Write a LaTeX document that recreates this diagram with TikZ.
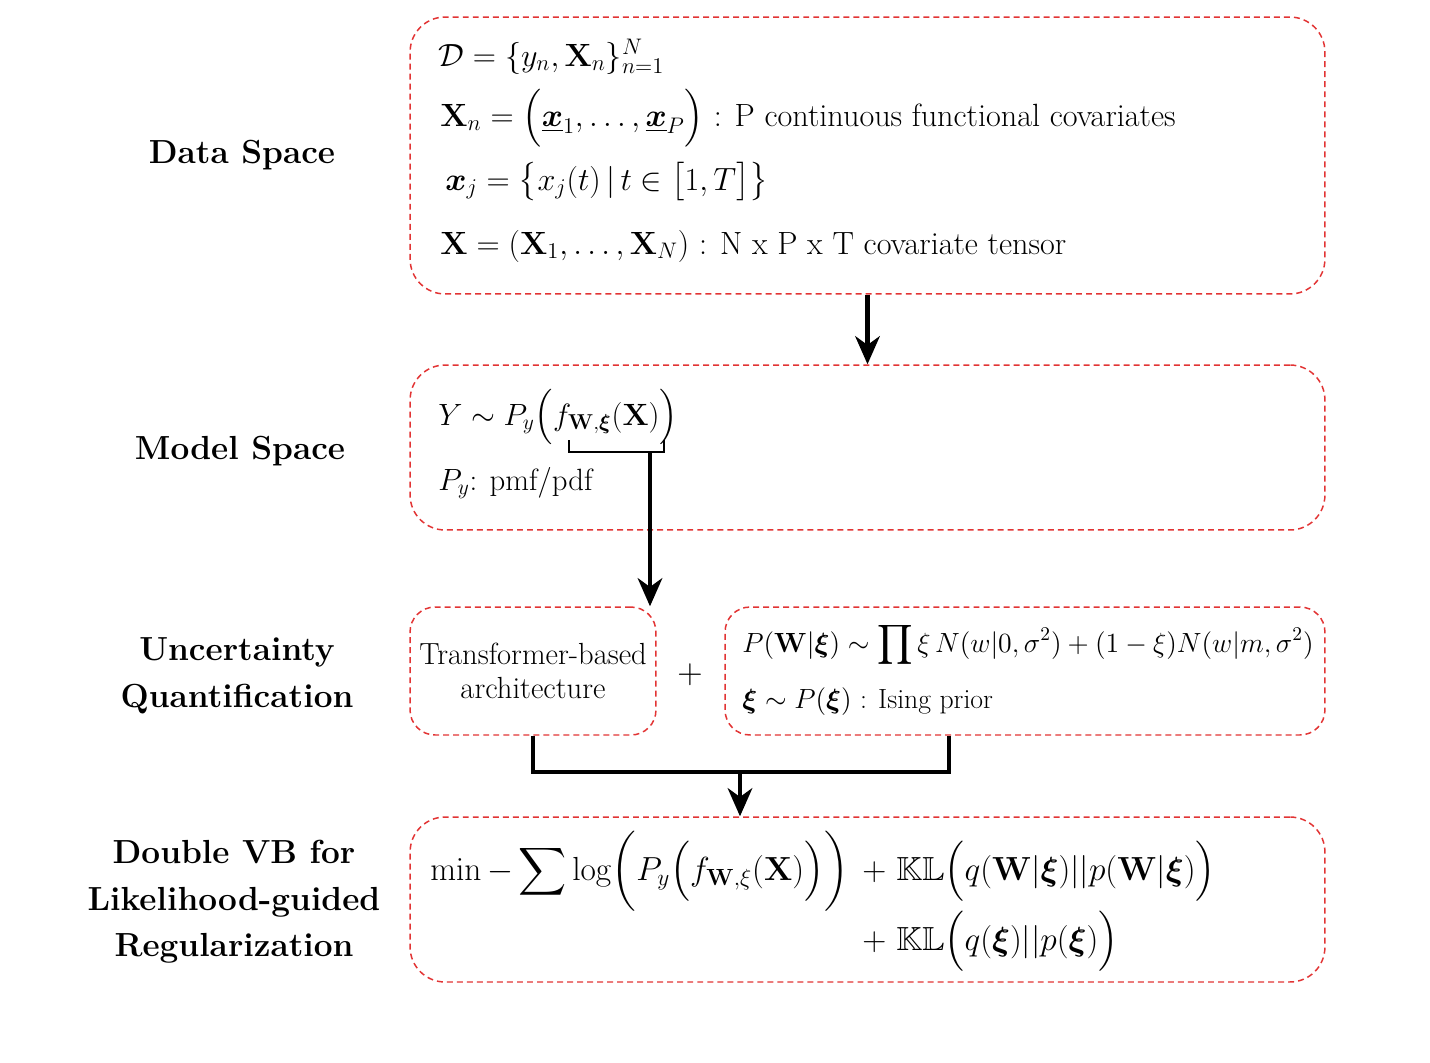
\RequirePackage{fix-cm}
\documentclass[tikz,border=0pt]{standalone}
\usepackage{amsmath}
\usepackage{amssymb}
\usepackage{amsfonts}
\usetikzlibrary{arrows.meta,positioning}
\definecolor{boxred}{RGB}{226,52,52}
\tikzset{
    %Define standard arrow tip
    >={Stealth[length=16pt,width=14pt,inset=5pt]},
    %Define style for boxes
    space/.style={
           rectangle,
           rounded corners=0.7cm,
           draw=boxred,
           line width=0.85pt,
           dash pattern=on 3.4pt off 2.3pt,
           inner sep=0pt},
    small space/.style={
           space,
           rounded corners=0.5cm},
    % Define style for texts
    lbl/.style={
           font=\fontsize{19}{26.5}\selectfont\bfseries,
           align=center},
    eq/.style={
           anchor=base west,
           inner sep=0pt,
           font=\fontsize{18.3}{20}\selectfont},
    % Define arrow style
    pil/.style={
           ->,
           line width=2.3pt},
    link/.style={
           line width=2.3pt}
}
\begin{document}
\begin{tikzpicture}[x=0.02cm,y=-0.02cm]
\useasboundingbox (0,0) rectangle (1430,1062);
% boxes
\node[space, minimum width=18.3cm, minimum height=5.54cm] (data) at (867.5,155.5) {};
\node[space, minimum width=18.3cm, minimum height=3.3cm] (model) at (867.5,447.5) {};
\node[small space, minimum width=4.92cm, minimum height=2.56cm] (trans) at (533,671) {};
\node[small space, minimum width=12cm, minimum height=2.56cm] (prior) at (1025,671) {};
\node[space, minimum width=18.3cm, minimum height=3.3cm] (vb) at (867.5,899.5) {};
% labels
\node[lbl] (l1) at (242,155) {Data Space};
\node[lbl] (l2) at (240,451) {Model Space};
\node[lbl] (l3) at (237,676) {Uncertainty\\Quantification};
\node[lbl] (l4) at (234,902) {Double VB for\\Likelihood-guided\\Regularization};
% data space
\node[eq] (d1) at (438,66) {$\mathcal{D}=\{y_n,\mathbf{X}_n\}_{n=1}^{N}$};
\node[eq] (d2) at (440,126) {$\mathbf{X}_n=\Bigl(\underline{\boldsymbol{x}}_1,\dots,\underline{\boldsymbol{x}}_P\Bigr)$ : P continuous functional covariates};
\node[eq] (d3) at (445,190) {$\boldsymbol{x}_j=\bigl\{x_j(t)\,|\,t\in\bigl[1,T\bigr]\bigr\}$};
\node[eq] (d4) at (440,254) {$\mathbf{X}=(\mathbf{X}_1,\dots,\mathbf{X}_N)$ : N x P x T covariate tensor};
% model space
\node[eq, font=\fontsize{17.5}{20}\selectfont] (m1) at (438,425) {$Y\sim P_y\Bigl(f_{\mathbf{W},\boldsymbol{\xi}}(\mathbf{X})\Bigr)$};
\node[eq, font=\fontsize{17.5}{20}\selectfont] (m2) at (438,490) {$P_y$: pmf/pdf};
% uncertainty quantification
\node[font=\fontsize{17.4}{19.5}\selectfont, align=center] (t1) at (trans) {Transformer-based\\architecture};
\node[font=\fontsize{20}{20}\selectfont] (plus) at (690,675) {$+$};
\node[eq, font=\fontsize{15.8}{18}\selectfont] (p1) at (742,652) {$P(\mathbf{W}|\boldsymbol{\xi})\sim\displaystyle\prod\xi\,N(w|0,\sigma^2)+(1-\xi)N(w|m,\sigma^2)$};
\node[eq, font=\fontsize{15.8}{18}\selectfont] (p2) at (742,708) {$\boldsymbol{\xi}\sim P(\boldsymbol{\xi})$ : Ising prior};
% double VB
\node[eq, font=\fontsize{19}{22}\selectfont] (v1) at (430,880) {$\min-\displaystyle\sum\log\biggl(P_y\Bigl(f_{\mathbf{W},\xi}(\mathbf{X})\Bigr)\biggr)$};
\node[eq, font=\fontsize{19}{22}\selectfont] (v2) at (862,880) {$+\ \mathbb{KL}\Bigl(q(\mathbf{W}|\boldsymbol{\xi})||p(\mathbf{W}|\boldsymbol{\xi})\Bigr)$};
\node[eq, font=\fontsize{19}{22}\selectfont] (v3) at (862,950) {$+\ \mathbb{KL}\Bigl(q(\boldsymbol{\xi})||p(\boldsymbol{\xi})\Bigr)$};
% bracket under f
\coordinate (brL) at (569,440);
\coordinate (brR) at (664,440);
\coordinate (brM) at (650,452);
\draw[line width=1.2pt] (brL) -- ++(0,12) -| (brR);
% connectors
\draw[pil] (data.south) -- (model.north);
\draw[pil] (brM) -- (brM |- trans.north);
\coordinate (join) at (740,772);
\draw[link] (trans.south) |- (join) -| ([xshift=-1.52cm]prior.south);
\draw[pil] (join) -- (join |- vb.north);
\end{tikzpicture}
\end{document}
